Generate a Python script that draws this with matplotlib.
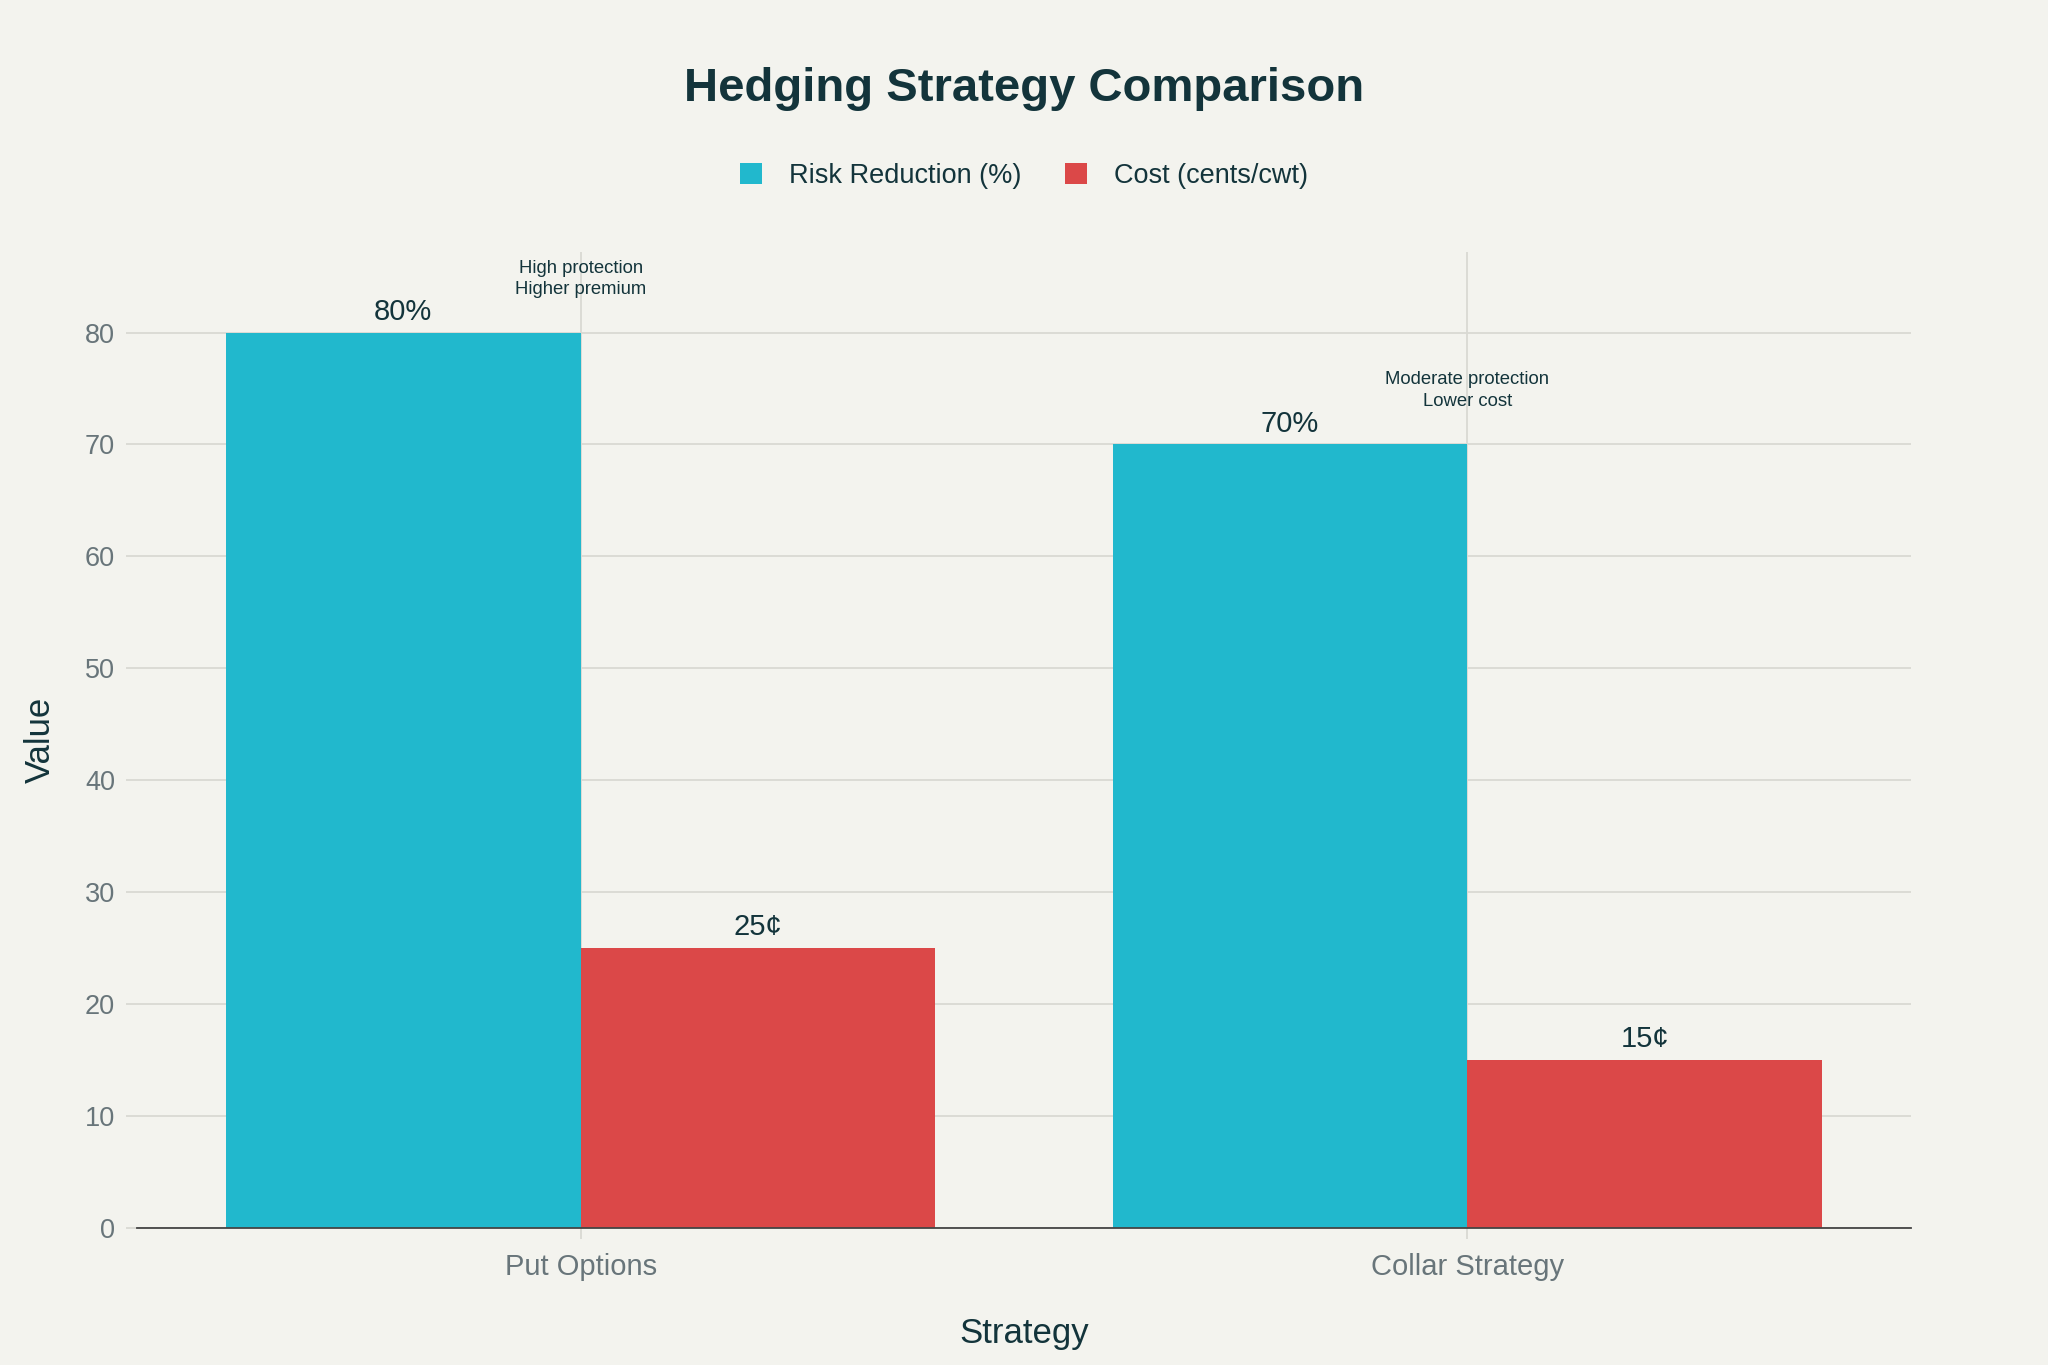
import numpy as np
import matplotlib.pyplot as plt

# chart data
strategies = ["Put Options", "Collar Strategy"]
risk_reduction = [80, 70]
cost_cents = [25, 15]
notes = ["High protection\nHigher premium", "Moderate protection\nLower cost"]

BG = "#F3F3EE"
BLUE = "#21B8CD"
RED = "#DB4848"
DARK = "#13343B"
GREY = "#68757A"
GRID = "#D9D9D3"

plt.rcParams["font.family"] = ["Liberation Sans", "DejaVu Sans"]

fig = plt.figure(figsize=(20.48, 13.65), dpi=100, facecolor=BG)
ax = fig.add_axes([0.067, 0.1004, 0.866, 0.715])
ax.set_facecolor(BG)

x = np.arange(len(strategies))
w = 0.4
b1 = ax.bar(x - w / 2, risk_reduction, w, color=BLUE, label="Risk Reduction (%)", zorder=2)
b2 = ax.bar(x + w / 2, cost_cents, w, color=RED, label="Cost (cents/cwt)", zorder=2)

for rect, v in zip(b1, risk_reduction):
    ax.annotate(f"{v}%", (rect.get_x() + rect.get_width() / 2, v), xytext=(0, 5),
                textcoords="offset points", ha="center", va="bottom", fontsize=21, color=DARK)
for rect, v in zip(b2, cost_cents):
    ax.annotate(f"{v}¢", (rect.get_x() + rect.get_width() / 2, v), xytext=(0, 5),
                textcoords="offset points", ha="center", va="bottom", fontsize=21, color=DARK)

# notes above each group
for xi, v, txt in zip(x, risk_reduction, notes):
    ax.text(xi, v + 4.8, txt, ha="center", va="center", fontsize=13.3, color=DARK,
            linespacing=1.35)

ax.set_xlim(-0.5, 1.5)
ax.set_ylim(0, 87.2)
ax.set_yticks(range(0, 81, 10))
ax.set_xticks(x)
ax.set_xticklabels(strategies)

ax.grid(axis="both", color=GRID, linewidth=1.3, zorder=0)
ax.set_axisbelow(True)
for s in ["top", "right", "left"]:
    ax.spines[s].set_visible(False)
ax.spines["bottom"].set_color("#444444")
ax.spines["bottom"].set_linewidth(1.3)
ax.spines["bottom"].set_zorder(3)

ax.tick_params(axis="y", colors=GRID, labelcolor=GREY, labelsize=19.5, length=8, width=1.3, pad=8)
ax.tick_params(axis="x", colors=GRID, labelcolor=GREY, labelsize=21, length=8, width=1.3, pad=10)

ax.set_xlabel("Strategy", fontsize=25, color=DARK, labelpad=26)
ax.set_ylabel("Value", fontsize=25, color=DARK, labelpad=20)

fig.text(0.5, 0.935, "Hedging Strategy Comparison", ha="center", va="center",
         fontsize=34, fontweight="bold", color=DARK)
fig.legend(loc="center", bbox_to_anchor=(0.5, 0.871), ncol=2, frameon=False,
           fontsize=19.5, handlelength=0.8, handleheight=0.8, columnspacing=1.6,
           handletextpad=1.0, labelcolor=DARK)

fig.savefig("out.png", dpi=100, facecolor=BG)
